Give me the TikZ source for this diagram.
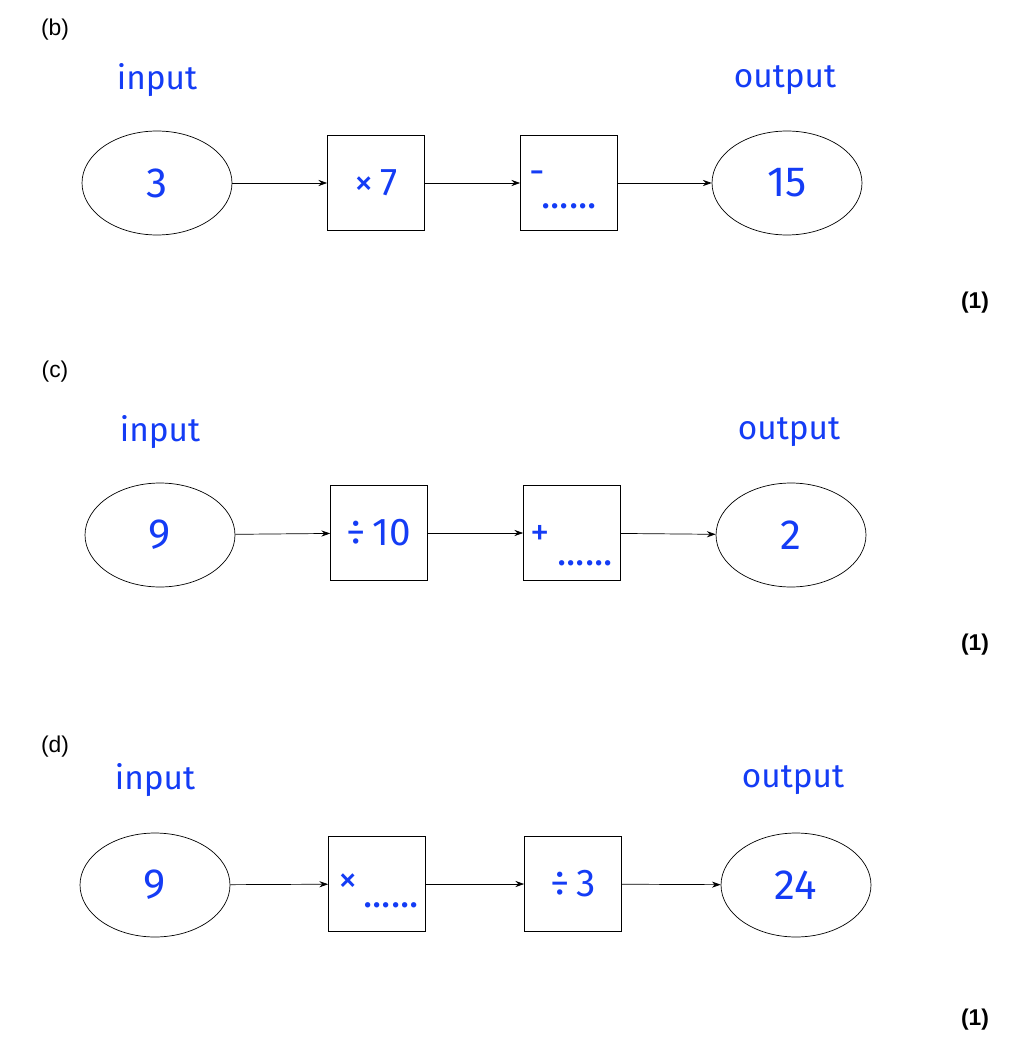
\documentclass[tikz,border=0pt]{standalone}
\usepackage{fontspec}
\setmainfont{Liberation Sans}
\newfontfamily\hand{Fira Sans}
\usetikzlibrary{arrows.meta,shapes.geometric}
\definecolor{penblue}{RGB}{20,60,245}
\begin{document}
\begin{tikzpicture}[x=0.02cm,y=-0.02cm]
  \tikzset{blue text/.style={text=penblue,font=\hand\fontsize{22}{26}\selectfont},
    word/.style={blue text,font=\hand\fontsize{19}{22}\selectfont},
    oval/.style={draw,ellipse,minimum width=3cm,minimum height=2.08cm,blue text,font=\hand\fontsize{24}{28}\selectfont},
    box/.style={draw,minimum width=1.94cm,minimum height=1.9cm,blue text},
    flow/.style={-{Stealth[length=5pt,width=3.5pt]}},
    score/.style={font=\bfseries\fontsize{13}{15}\selectfont},
    part/.style={font=\fontsize{13}{15}\selectfont}}
  \useasboundingbox (0,0) rectangle (1016,1040);
  % (b)
  \node [part] (pb) at (55,30) {(b)};
  \node [word] (inb) at (157,80) {input};
  \node [word] (outb) at (785,80) {output};
  \node [oval] (b1) at (157,183) {3};
  \node [box] (b2) at (376,183) {×\,7};
  \node [box] (b3) at (569,183) {};
  \node [blue text] (b3op) at (537,178) {-};
  \node [blue text] (b3gap) at (569,206) {......};
  \node [oval] (b4) at (787,183) {15};
  \draw [flow] (b1) -- (b2);
  \draw [flow] (b2) -- (b3);
  \draw [flow] (b3) -- (b4);
  \node [score] (mb) at (975,303) {(1)};
  % (c)
  \node [part] (pc) at (55,372) {(c)};
  \node [word] (inc) at (160,432) {input};
  \node [word] (outc) at (789,432) {output};
  \node [oval] (c1) at (160,535) {9};
  \node [box] (c2) at (379,533) {÷\,10};
  \node [box] (c3) at (572,533) {};
  \node [blue text] (c3op) at (540,535) {+};
  \node [blue text] (c3gap) at (585,563) {......};
  \node [oval] (c4) at (791,535) {2};
  \draw [flow] (c1) -- (c2);
  \draw [flow] (c2) -- (c3);
  \draw [flow] (c3) -- (c4);
  \node [score] (mc) at (975,645) {(1)};
  % (d)
  \node [part] (pd) at (55,747) {(d)};
  \node [word] (ind) at (155,780) {input};
  \node [word] (outd) at (793,780) {output};
  \node [oval] (d1) at (155,885) {9};
  \node [box] (d2) at (377,884) {};
  \node [blue text] (d2op) at (348,883) {×};
  \node [blue text] (d2gap) at (391,905) {......};
  \node [box] (d3) at (573,884) {÷\,3};
  \node [oval] (d4) at (796,885) {24};
  \draw [flow] (d1) -- (d2);
  \draw [flow] (d2) -- (d3);
  \draw [flow] (d3) -- (d4);
  \node [score] (md) at (975,1020) {(1)};
\end{tikzpicture}
\end{document}
